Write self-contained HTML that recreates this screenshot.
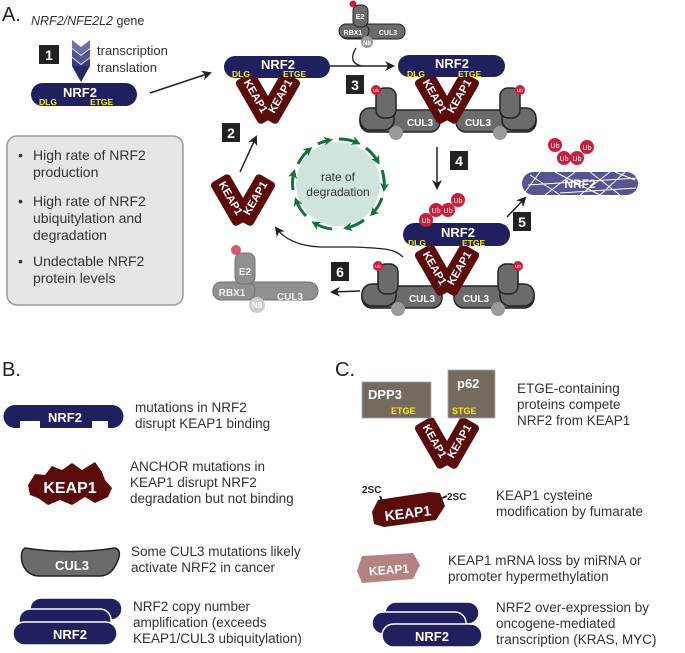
<!DOCTYPE html>
<html><head><meta charset="utf-8"><style>
html,body{margin:0;padding:0;background:#fff;}
svg{display:block;font-family:"Liberation Sans",Arial,sans-serif;}
.b{font-weight:bold;}
.t{font-size:13.5px;fill:#333;}
</style></head><body>
<svg width="685" height="653" viewBox="0 0 685 653" xmlns="http://www.w3.org/2000/svg">
<defs>
<marker id="ah" markerWidth="10" markerHeight="10" refX="8" refY="5" orient="auto" markerUnits="userSpaceOnUse">
<path d="M0,0 L10,5 L0,10 L3,5 Z" fill="#222"/></marker>
<marker id="gh" markerWidth="9" markerHeight="9" refX="6" refY="4.5" orient="auto" markerUnits="userSpaceOnUse">
<path d="M0,0 L9,4.5 L0,9 L2.5,4.5 Z" fill="#137237"/></marker>
<g id="kv">
<g transform="rotate(-30)"><rect x="-11" y="-48" width="22" height="50" rx="4" fill="#5c0b0b"/></g>
<g transform="rotate(30)"><rect x="-11" y="-48" width="22" height="50" rx="4" fill="#5c0b0b"/></g>
<text transform="translate(-12,-22) rotate(60)" text-anchor="middle" dy="4" font-size="11" class="b" fill="#fff">KEAP1</text>
<text transform="translate(12,-22) rotate(-60)" text-anchor="middle" dy="4" font-size="11" class="b" fill="#fff">KEAP1</text>
</g>
<g id="e3l">
<rect x="-2" y="-4" width="80" height="22" rx="10" fill="#6b6b6b" stroke="#222" stroke-width="1.5"/>
<rect x="-2" y="-6" width="34" height="22" rx="10" fill="#6b6b6b" stroke="#222" stroke-width="1.5"/>
<rect x="14" y="-26" width="20" height="30" rx="8" fill="#6b6b6b" stroke="#222" stroke-width="1.5"/>
<circle cx="34" cy="19" r="7" fill="#9a9a9a"/>
<circle cx="14" cy="-24" r="5" fill="#c8203a"/>
</g>
</defs>

<!-- Panel A -->
<text x="2" y="21" font-size="20" fill="#222">A.</text>
<text x="31" y="25" font-size="12.5" fill="#333"><tspan font-style="italic">NRF2/NFE2L2</tspan> gene</text>
<rect x="39" y="45" width="20" height="19" fill="#222"/><text x="49" y="60" font-size="14" class="b" fill="#fff" text-anchor="middle">1</text>
<g>
<path d="M72,40 L81,47 L90,40 L90,48 L81,55 L72,48Z" fill="#7070a8"/>
<path d="M72,49 L81,56 L90,49 L90,57 L81,64 L72,57Z" fill="#55558f"/>
<path d="M72,58 L81,65 L90,58 L90,66 L81,73 L72,66Z" fill="#3a3a80"/>
<path d="M72,66 L90,66 L81,82Z" fill="#262668"/>
</g>
<text x="97" y="55" font-size="13" fill="#333">transcription</text>
<text x="97" y="72" font-size="13" fill="#333">translation</text>
<rect x="31" y="83" width="106" height="23" rx="11.5" fill="#20205e"/>
<text x="80" y="97" font-size="13" class="b" fill="#fff" text-anchor="middle">NRF2</text>
<text x="39" y="105" font-size="8.5" class="b" fill="#ffee00">DLG</text>
<text x="90" y="105" font-size="8.5" class="b" fill="#ffee00">ETGE</text>
<line x1="150" y1="93" x2="210" y2="73" stroke="#222" stroke-width="1.5" marker-end="url(#ah)"/>

<!-- complex 1 -->
<use href="#kv" x="268" y="118"/>
<rect x="224" y="56" width="106" height="22" rx="11" fill="#20205e"/>
<text x="278" y="69" font-size="13" class="b" fill="#fff" text-anchor="middle">NRF2</text>
<text x="232" y="77" font-size="8.5" class="b" fill="#ffee00">DLG</text>
<text x="283" y="77" font-size="8.5" class="b" fill="#ffee00">ETGE</text>

<!-- free E3 top -->
<g>
<rect x="340" y="24" width="65" height="15" rx="7" fill="#6b6b6b" stroke="#222"/>
<rect x="339" y="24" width="30" height="14" rx="7" fill="#6b6b6b" stroke="#222"/>
<rect x="353" y="5" width="15" height="22" rx="6" fill="#6b6b6b" stroke="#222"/>
<circle cx="367" cy="42" r="6" fill="#9a9a9a"/>
<circle cx="353" cy="4" r="3.5" fill="#c8203a"/>
<text x="360" y="19" font-size="7" class="b" fill="#fff" text-anchor="middle">E2</text>
<text x="353" y="35" font-size="7" class="b" fill="#fff" text-anchor="middle">RBX1</text>
<text x="388" y="35" font-size="7" class="b" fill="#fff" text-anchor="middle">CUL3</text>
<text x="367" y="45" font-size="6" class="b" fill="#fff" text-anchor="middle">N8</text>
</g>
<path d="M356,48 C350,58 352,64 362,66" fill="none" stroke="#222" stroke-width="1.3"/>
<line x1="330" y1="66" x2="393" y2="66" stroke="#222" stroke-width="1.5" marker-end="url(#ah)"/>
<rect x="346" y="75" width="18" height="19" fill="#222"/><text x="355" y="90" font-size="14" class="b" fill="#fff" text-anchor="middle">3</text>

<!-- complex 2 -->
<use href="#e3l" x="362" y="114"/>
<use href="#e3l" transform="translate(534,114) scale(-1,1)"/>
<text x="420" y="126" font-size="10" class="b" fill="#fff" text-anchor="middle">CUL3</text>
<text x="478" y="126" font-size="10" class="b" fill="#fff" text-anchor="middle">CUL3</text>
<text x="376" y="92" font-size="4.5" fill="#fff" text-anchor="middle">Ub</text>
<text x="520" y="92" font-size="4.5" fill="#fff" text-anchor="middle">Ub</text>
<use href="#kv" x="447" y="118"/>
<rect x="398" y="55" width="107" height="22" rx="11" fill="#20205e"/>
<text x="452" y="68" font-size="13" class="b" fill="#fff" text-anchor="middle">NRF2</text>
<text x="407" y="77" font-size="8.5" class="b" fill="#ffee00">DLG</text>
<text x="458" y="77" font-size="8.5" class="b" fill="#ffee00">ETGE</text>

<!-- box 2 & arrow -->
<rect x="222" y="123" width="18" height="19" fill="#222"/><text x="231" y="138" font-size="14" class="b" fill="#fff" text-anchor="middle">2</text>
<line x1="240" y1="172" x2="256" y2="137" stroke="#222" stroke-width="1.5" marker-end="url(#ah)"/>
<use href="#kv" x="243" y="220"/>

<!-- green circle -->
<circle cx="338" cy="184" r="42" fill="#cfe5dc"/>
<text x="338" y="181" font-size="12" fill="#333" text-anchor="middle">rate of</text>
<text x="338" y="196" font-size="12" fill="#333" text-anchor="middle">degradation</text>
<g fill="none" stroke="#137237" stroke-width="3" marker-end="url(#gh)">
<path d="M339,139 A45,45 0 0 1 358,143"/>
<path d="M366,148 A45,45 0 0 1 378,162"/>
<path d="M382,170 A45,45 0 0 1 384,189"/>
<path d="M382,198 A45,45 0 0 1 372,214"/>
<path d="M364,220 A45,45 0 0 1 346,228"/>
<path d="M332,229 A45,45 0 0 1 314,223"/>
<path d="M306,216 A45,45 0 0 1 296,200"/>
<path d="M293,190 A45,45 0 0 1 294,172"/>
<path d="M298,164 A45,45 0 0 1 310,149"/>
<path d="M318,144 A45,45 0 0 1 330,140"/>
</g>

<!-- step 4 -->
<line x1="437" y1="147" x2="437" y2="188" stroke="#222" stroke-width="1.5" marker-end="url(#ah)"/>
<rect x="450" y="151" width="18" height="19" fill="#222"/><text x="459" y="166" font-size="14" class="b" fill="#fff" text-anchor="middle">4</text>

<!-- degraded NRF2 -->
<rect x="522" y="172" width="116" height="23" rx="11.5" fill="#55558f"/>
<g stroke="#fff" stroke-width="1" fill="none">
<path d="M530,175 L560,195 M540,172 L525,192 M555,172 L600,195 M575,172 L545,195 M590,172 L620,195 M610,172 L580,195 M625,172 L600,195 M635,180 L615,172 M528,185 L638,178 M560,193 L636,188"/>
</g>
<text x="580" y="188" font-size="12" class="b" fill="#fff" text-anchor="middle">NRF2</text>
<g fill="#c8203a"><circle cx="555" cy="145" r="7"/><circle cx="564" cy="158" r="7"/><circle cx="577" cy="158" r="7"/><circle cx="587" cy="147" r="7"/></g>
<g font-size="7" fill="#fff" text-anchor="middle"><text x="555" y="148">Ub</text><text x="564" y="161">Ub</text><text x="577" y="161">Ub</text><text x="587" y="150">Ub</text></g>
<line x1="507" y1="217" x2="525" y2="198" stroke="#222" stroke-width="1.5" marker-end="url(#ah)"/>
<rect x="513" y="212" width="18" height="19" fill="#222"/><text x="522" y="227" font-size="14" class="b" fill="#fff" text-anchor="middle">5</text>

<!-- complex 3 -->
<path d="M403,257 C395,250 390,248 350,247 L320,247 C300,246 285,240 276,228" fill="none" stroke="#222" stroke-width="1.3" marker-end="url(#ah)"/>
<use href="#e3l" x="364" y="290"/>
<use href="#e3l" transform="translate(532,290) scale(-1,1)"/>
<text x="422" y="302" font-size="10" class="b" fill="#fff" text-anchor="middle">CUL3</text>
<text x="476" y="302" font-size="10" class="b" fill="#fff" text-anchor="middle">CUL3</text>
<text x="378" y="268" font-size="4.5" fill="#fff" text-anchor="middle">Ub</text>
<text x="518" y="268" font-size="4.5" fill="#fff" text-anchor="middle">Ub</text>
<use href="#kv" x="447" y="290"/>
<rect x="403" y="223" width="107" height="23" rx="11.5" fill="#20205e"/>
<text x="458" y="237" font-size="13" class="b" fill="#fff" text-anchor="middle">NRF2</text>
<text x="408" y="246" font-size="8.5" class="b" fill="#ffee00">DLG</text>
<text x="462" y="246" font-size="8.5" class="b" fill="#ffee00">ETGE</text>
<g fill="#c8203a"><circle cx="426" cy="220" r="7"/><circle cx="436" cy="210" r="7"/><circle cx="448" cy="210" r="7"/><circle cx="458" cy="200" r="7"/></g>
<g font-size="7" fill="#fff" text-anchor="middle"><text x="426" y="223">Ub</text><text x="436" y="213">Ub</text><text x="448" y="213">Ub</text><text x="458" y="203">Ub</text></g>

<!-- step 6 -->
<line x1="360" y1="291" x2="332" y2="292" stroke="#222" stroke-width="1.5" marker-end="url(#ah)"/>
<rect x="331" y="262" width="18" height="19" fill="#222"/><text x="340" y="277" font-size="14" class="b" fill="#fff" text-anchor="middle">6</text>
<g opacity="0.75">
<rect x="214" y="282" width="104" height="18" rx="9" fill="#6b6b6b" stroke="#444"/>
<rect x="213" y="282" width="42" height="18" rx="8" fill="#6b6b6b" stroke="#444"/>
<rect x="235" y="253" width="20" height="31" rx="7" fill="#6b6b6b" stroke="#444"/>
<circle cx="257" cy="305" r="8" fill="#bbb"/>
<circle cx="236" cy="250" r="5" fill="#c8203a"/>
<text x="245" y="275" font-size="10" class="b" fill="#eee" text-anchor="middle">E2</text>
<text x="232" y="296" font-size="10" class="b" fill="#eee" text-anchor="middle">RBX1</text>
<text x="290" y="300" font-size="10" class="b" fill="#eee" text-anchor="middle">CUL3</text>
<text x="257" y="308" font-size="8" class="b" fill="#fff" text-anchor="middle">N8</text>
</g>

<!-- grey box -->
<rect x="7" y="136" width="176" height="169" rx="10" fill="#e6e6e8" stroke="#9a9a9a" stroke-width="1.5"/>
<g font-size="14" fill="#333">
<text x="18" y="160">•</text><text x="33" y="160">High rate of NRF2</text><text x="33" y="177">production</text>
<text x="18" y="206">•</text><text x="33" y="206">High rate of NRF2</text><text x="33" y="223">ubiquitylation and</text><text x="33" y="240">degradation</text>
<text x="18" y="266">•</text><text x="33" y="266">Undectable NRF2</text><text x="33" y="283">protein levels</text>
</g>

<!-- Panel B -->
<text x="2" y="376" font-size="20" fill="#222">B.</text>
<path d="M15,405 H112 A11.5,11.5 0 0 1 112,428 H108 V421 H92 V428 H40 V421 H20 V428 H15 A11.5,11.5 0 0 1 15,405Z" fill="#20205e"/>
<text x="65" y="422" font-size="13" class="b" fill="#fff" text-anchor="middle">NRF2</text>
<text class="t" x="135" y="412">mutations in NRF2</text><text class="t" x="135" y="428">disrupt KEAP1 binding</text>
<path d="M28,485 L35,474 L45,475 L52,466 L62,470 L72,463 L82,470 L95,462 L102,472 L105,480 L112,488 L108,497 L95,503 L85,497 L72,505 L60,500 L48,505 L38,498 L30,495Z" fill="#5c0b0b"/>
<text x="70" y="493" font-size="16" class="b" fill="#fff" text-anchor="middle">KEAP1</text>
<text class="t" x="130" y="471">ANCHOR mutations in</text><text class="t" x="130" y="487">KEAP1 disrupt NRF2</text><text class="t" x="130" y="503">degradation but not binding</text>
<path d="M25,548 Q70,555 115,548 Q122,550 118,560 Q112,576 100,576 L40,576 Q26,576 22,562 Q20,551 25,548Z" fill="#6b6b6b" stroke="#222" stroke-width="1.5"/>
<text x="72" y="570" font-size="13" class="b" fill="#fff" text-anchor="middle">CUL3</text>
<text class="t" x="131" y="556">Some CUL3 mutations likely</text><text class="t" x="131" y="572">activate NRF2 in cancer</text>
<rect x="30" y="598" width="92" height="22" rx="11" fill="#20205e" stroke="#fff" stroke-width="1.5"/>
<rect x="19" y="609" width="92" height="22" rx="11" fill="#20205e" stroke="#fff" stroke-width="1.5"/>
<rect x="13" y="622" width="104" height="23" rx="11.5" fill="#20205e" stroke="#fff" stroke-width="1.5"/>
<text x="70" y="639" font-size="13" class="b" fill="#fff" text-anchor="middle">NRF2</text>
<text class="t" x="133" y="611">NRF2 copy number</text><text class="t" x="133" y="627">amplification (exceeds</text><text class="t" x="133" y="643">KEAP1/CUL3 ubiquitylation)</text>

<!-- Panel C -->
<text x="335" y="376" font-size="20" fill="#222">C.</text>
<use href="#kv" x="447" y="463"/>
<rect x="362" y="382" width="69" height="36" fill="#746a5e" stroke="#aaa" stroke-width="0.8"/>
<text x="368" y="399" font-size="13" class="b" fill="#fff">DPP3</text>
<text x="391" y="414" font-size="9" class="b" fill="#ffee00">ETGE</text>
<rect x="448" y="370" width="47" height="48" fill="#746a5e" stroke="#aaa" stroke-width="0.8"/>
<text x="457" y="388" font-size="13" class="b" fill="#fff">p62</text>
<text x="452" y="414" font-size="9" class="b" fill="#ffee00">STGE</text>
<text class="t" x="517" y="393">ETGE-containing</text><text class="t" x="517" y="409">proteins compete</text><text class="t" x="517" y="425">NRF2 from KEAP1</text>
<path d="M378,500 L430,492 L440,493 L445,506 L436,520 L384,527 L374,524 L372,512Z" fill="#5c0b0b"/>
<text x="408" y="518" font-size="14" class="b" fill="#fff" text-anchor="middle" transform="rotate(-7 408 514)">KEAP1</text>
<line x1="380" y1="496" x2="383" y2="503" stroke="#222" stroke-width="2"/>
<line x1="440" y1="499" x2="447" y2="496" stroke="#222" stroke-width="2"/>
<text x="362" y="493" font-size="10" class="b" fill="#222">2SC</text>
<text x="447" y="500" font-size="10" class="b" fill="#222">2SC</text>
<text class="t" x="496" y="500">KEAP1 cysteine</text><text class="t" x="496" y="516">modification by fumarate</text>
<path d="M362,556 L413,553 L420,565 L413,579 L362,583 L357,571Z" fill="#b58282"/>
<text x="389" y="574" font-size="12" class="b" fill="#fff" text-anchor="middle" transform="rotate(-4 389 570)">KEAP1</text>
<text class="t" x="448" y="565">KEAP1 mRNA loss by miRNA or</text><text class="t" x="448" y="581">promoter hypermethylation</text>
<rect x="385" y="602" width="94" height="22" rx="11" fill="#20205e" stroke="#fff" stroke-width="1.5"/>
<rect x="372" y="612" width="94" height="22" rx="11" fill="#20205e" stroke="#fff" stroke-width="1.5"/>
<rect x="382" y="624" width="100" height="23" rx="11.5" fill="#20205e" stroke="#fff" stroke-width="1.5"/>
<text x="432" y="641" font-size="13" class="b" fill="#fff" text-anchor="middle">NRF2</text>
<text class="t" x="496" y="612">NRF2 over-expression by</text><text class="t" x="496" y="628">oncogene-mediated</text><text class="t" x="496" y="644">transcription (KRAS, MYC)</text>
</svg>
</body></html>
